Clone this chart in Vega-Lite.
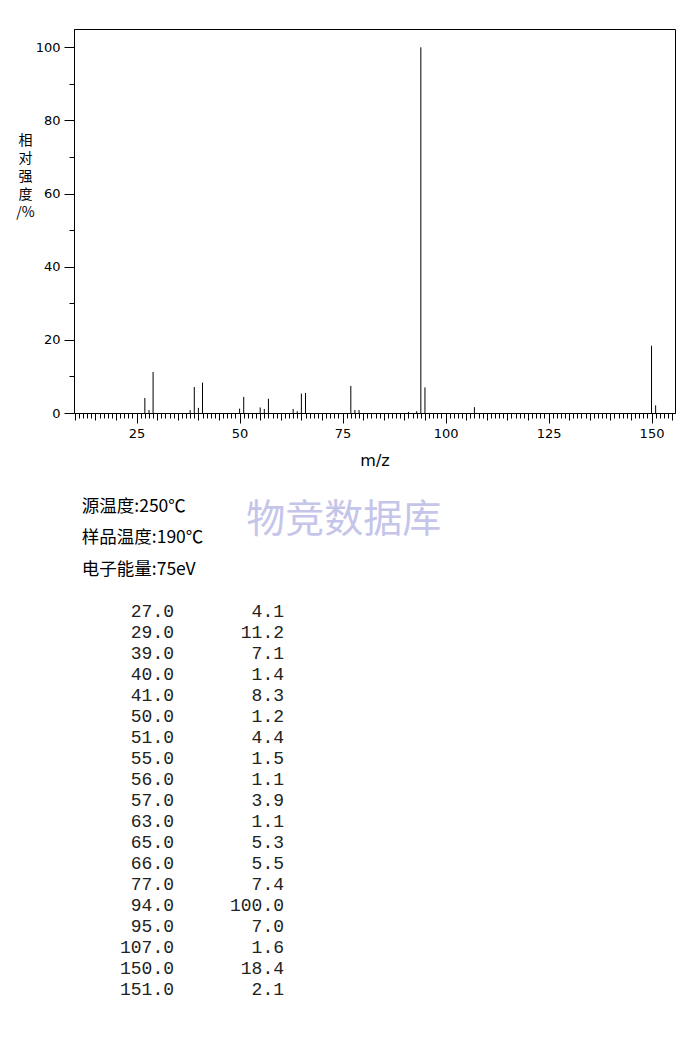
{
  "$schema": "https://vega.github.io/schema/vega-lite/v6.json",
  "padding": {"left": 15, "top": 28, "right": 5, "bottom": 5},
  "spacing": 20,
  "config": {
    "view": {"stroke": null},
    "axis": {"labelFont": "DejaVu Sans", "labelFontSize": 13, "labelColor": "black", "domainColor": "black", "tickColor": "black", "titleColor": "black", "grid": false, "labelOverlap": false, "labelFlush": false, "labelBound": false}
  },
  "datasets": {
    "peaks": [
      {"mz": 27, "intensity": 4.1}, {"mz": 28, "intensity": 0.8}, {"mz": 29, "intensity": 11.2},
      {"mz": 38, "intensity": 0.8}, {"mz": 39, "intensity": 7.1}, {"mz": 40, "intensity": 1.4},
      {"mz": 41, "intensity": 8.3}, {"mz": 50, "intensity": 1.2}, {"mz": 51, "intensity": 4.4},
      {"mz": 55, "intensity": 1.5}, {"mz": 56, "intensity": 1.1}, {"mz": 57, "intensity": 3.9},
      {"mz": 63, "intensity": 1.1}, {"mz": 64, "intensity": 0.5}, {"mz": 65, "intensity": 5.3},
      {"mz": 66, "intensity": 5.5}, {"mz": 77, "intensity": 7.4}, {"mz": 78, "intensity": 0.8},
      {"mz": 79, "intensity": 0.8}, {"mz": 91, "intensity": 0.3}, {"mz": 93, "intensity": 0.5},
      {"mz": 94, "intensity": 100.0}, {"mz": 95, "intensity": 7.0}, {"mz": 107, "intensity": 1.6},
      {"mz": 150, "intensity": 18.4}, {"mz": 151, "intensity": 2.1}
    ],
    "table": [
      {"mz": 27.0, "intensity": 4.1}, {"mz": 29.0, "intensity": 11.2}, {"mz": 39.0, "intensity": 7.1},
      {"mz": 40.0, "intensity": 1.4}, {"mz": 41.0, "intensity": 8.3}, {"mz": 50.0, "intensity": 1.2},
      {"mz": 51.0, "intensity": 4.4}, {"mz": 55.0, "intensity": 1.5}, {"mz": 56.0, "intensity": 1.1},
      {"mz": 57.0, "intensity": 3.9}, {"mz": 63.0, "intensity": 1.1}, {"mz": 65.0, "intensity": 5.3},
      {"mz": 66.0, "intensity": 5.5}, {"mz": 77.0, "intensity": 7.4}, {"mz": 94.0, "intensity": 100.0},
      {"mz": 95.0, "intensity": 7.0}, {"mz": 107.0, "intensity": 1.6}, {"mz": 150.0, "intensity": 18.4},
      {"mz": 151.0, "intensity": 2.1}
    ],
    "info": [
      {"row": 1, "text": "源温度:250℃"},
      {"row": 2, "text": "样品温度:190℃"},
      {"row": 3, "text": "电子能量:75eV"}
    ]
  },
  "vconcat": [
    {
      "width": 601,
      "height": 384,
      "view": {"stroke": "black", "strokeWidth": 1},
      "data": {"name": "peaks"},
      "mark": {"type": "rule", "color": "black", "strokeWidth": 1},
      "encoding": {
        "x": {
          "field": "mz", "type": "quantitative",
          "scale": {"domain": [9.8, 155.7], "nice": false, "zero": false},
          "axis": {
            "values": [10,11,12,13,14,15,16,17,18,19,20,21,22,23,24,25,26,27,28,29,30,31,32,33,34,35,36,37,38,39,40,41,42,43,44,45,46,47,48,49,50,51,52,53,54,55,56,57,58,59,60,61,62,63,64,65,66,67,68,69,70,71,72,73,74,75,76,77,78,79,80,81,82,83,84,85,86,87,88,89,90,91,92,93,94,95,96,97,98,99,100,101,102,103,104,105,106,107,108,109,110,111,112,113,114,115,116,117,118,119,120,121,122,123,124,125,126,127,128,129,130,131,132,133,134,135,136,137,138,139,140,141,142,143,144,145,146,147,148,149,150,151,152,153,154,155],
            "labelExpr": "datum.value % 25 === 0 ? datum.label : ''",
            "tickSize": {"condition": [{"test": "datum.value % 25 === 0", "value": 10}, {"test": "datum.value % 5 === 0", "value": 7}], "value": 5},
            "labelPadding": 4,
            "title": "m/z",
            "titleFont": "DejaVu Sans",
            "titleFontSize": 16,
            "titleFontWeight": "normal",
            "titlePadding": 12
          }
        },
        "y": {
          "field": "intensity", "type": "quantitative",
          "scale": {"domain": [0, 105], "nice": false},
          "axis": {
            "values": [0,10,20,30,40,50,60,70,80,90,100],
            "labelExpr": "datum.value % 20 === 0 ? datum.label : ''",
            "tickSize": {"condition": {"test": "datum.value % 20 === 0", "value": 10}, "value": 5},
            "labelPadding": 4,
            "title": ["相", "对", "强", "度", "/%"],
            "titleAngle": 0,
            "titleX": -49,
            "titleY": 104,
            "titleBaseline": "top",
            "titleAlign": "center",
            "titleLineHeight": 18,
            "titleFont": "Noto Sans CJK SC",
            "titleFontSize": 14,
            "titleFontWeight": "normal"
          }
        },
        "y2": {"datum": 0}
      }
    },
    {
      "width": 601,
      "height": 91.5,
      "layer": [
        {
          "data": {"name": "info"},
          "mark": {"type": "text", "align": "left", "baseline": "middle", "font": "Noto Sans CJK SC", "fontSize": 17.5, "color": "black"},
          "encoding": {
            "x": {"datum": 1.3, "type": "quantitative", "scale": {"domain": [0, 100]}, "axis": null},
            "y": {"field": "row", "type": "quantitative", "scale": {"domain": [0.44, 3.345], "reverse": true, "nice": false, "zero": false}, "axis": null},
            "text": {"field": "text"}
          }
        },
        {
          "data": {"values": [{"text": "物竞数据库"}]},
          "mark": {"type": "text", "align": "center", "baseline": "middle", "font": "Noto Sans CJK SC", "fontSize": 39, "color": "#c5c5ea"},
          "encoding": {
            "x": {"datum": 44.9, "type": "quantitative", "scale": {"domain": [0, 100]}, "axis": null},
            "y": {"datum": 1.42, "type": "quantitative", "scale": {"domain": [0.44, 3.345], "reverse": true, "nice": false, "zero": false}, "axis": null},
            "text": {"field": "text"}
          }
        }
      ]
    },
    {
      "width": 601,
      "height": 399,
      "data": {"name": "table"},
      "transform": [{"fold": ["mz", "intensity"], "as": ["col", "val"]}],
      "mark": {"type": "text", "align": "right", "baseline": "middle", "font": "Liberation Mono", "fontSize": 18, "color": "#222222"},
      "encoding": {
        "x": {"field": "col", "type": "nominal", "scale": {"type": "point", "domain": ["mz", "intensity"], "range": [100, 210], "padding": 0}, "axis": null},
        "y": {"field": "mz", "type": "ordinal", "scale": {"type": "point", "padding": 0.5}, "axis": null},
        "text": {"field": "val", "type": "quantitative", "format": ".1f"}
      }
    }
  ]
}
